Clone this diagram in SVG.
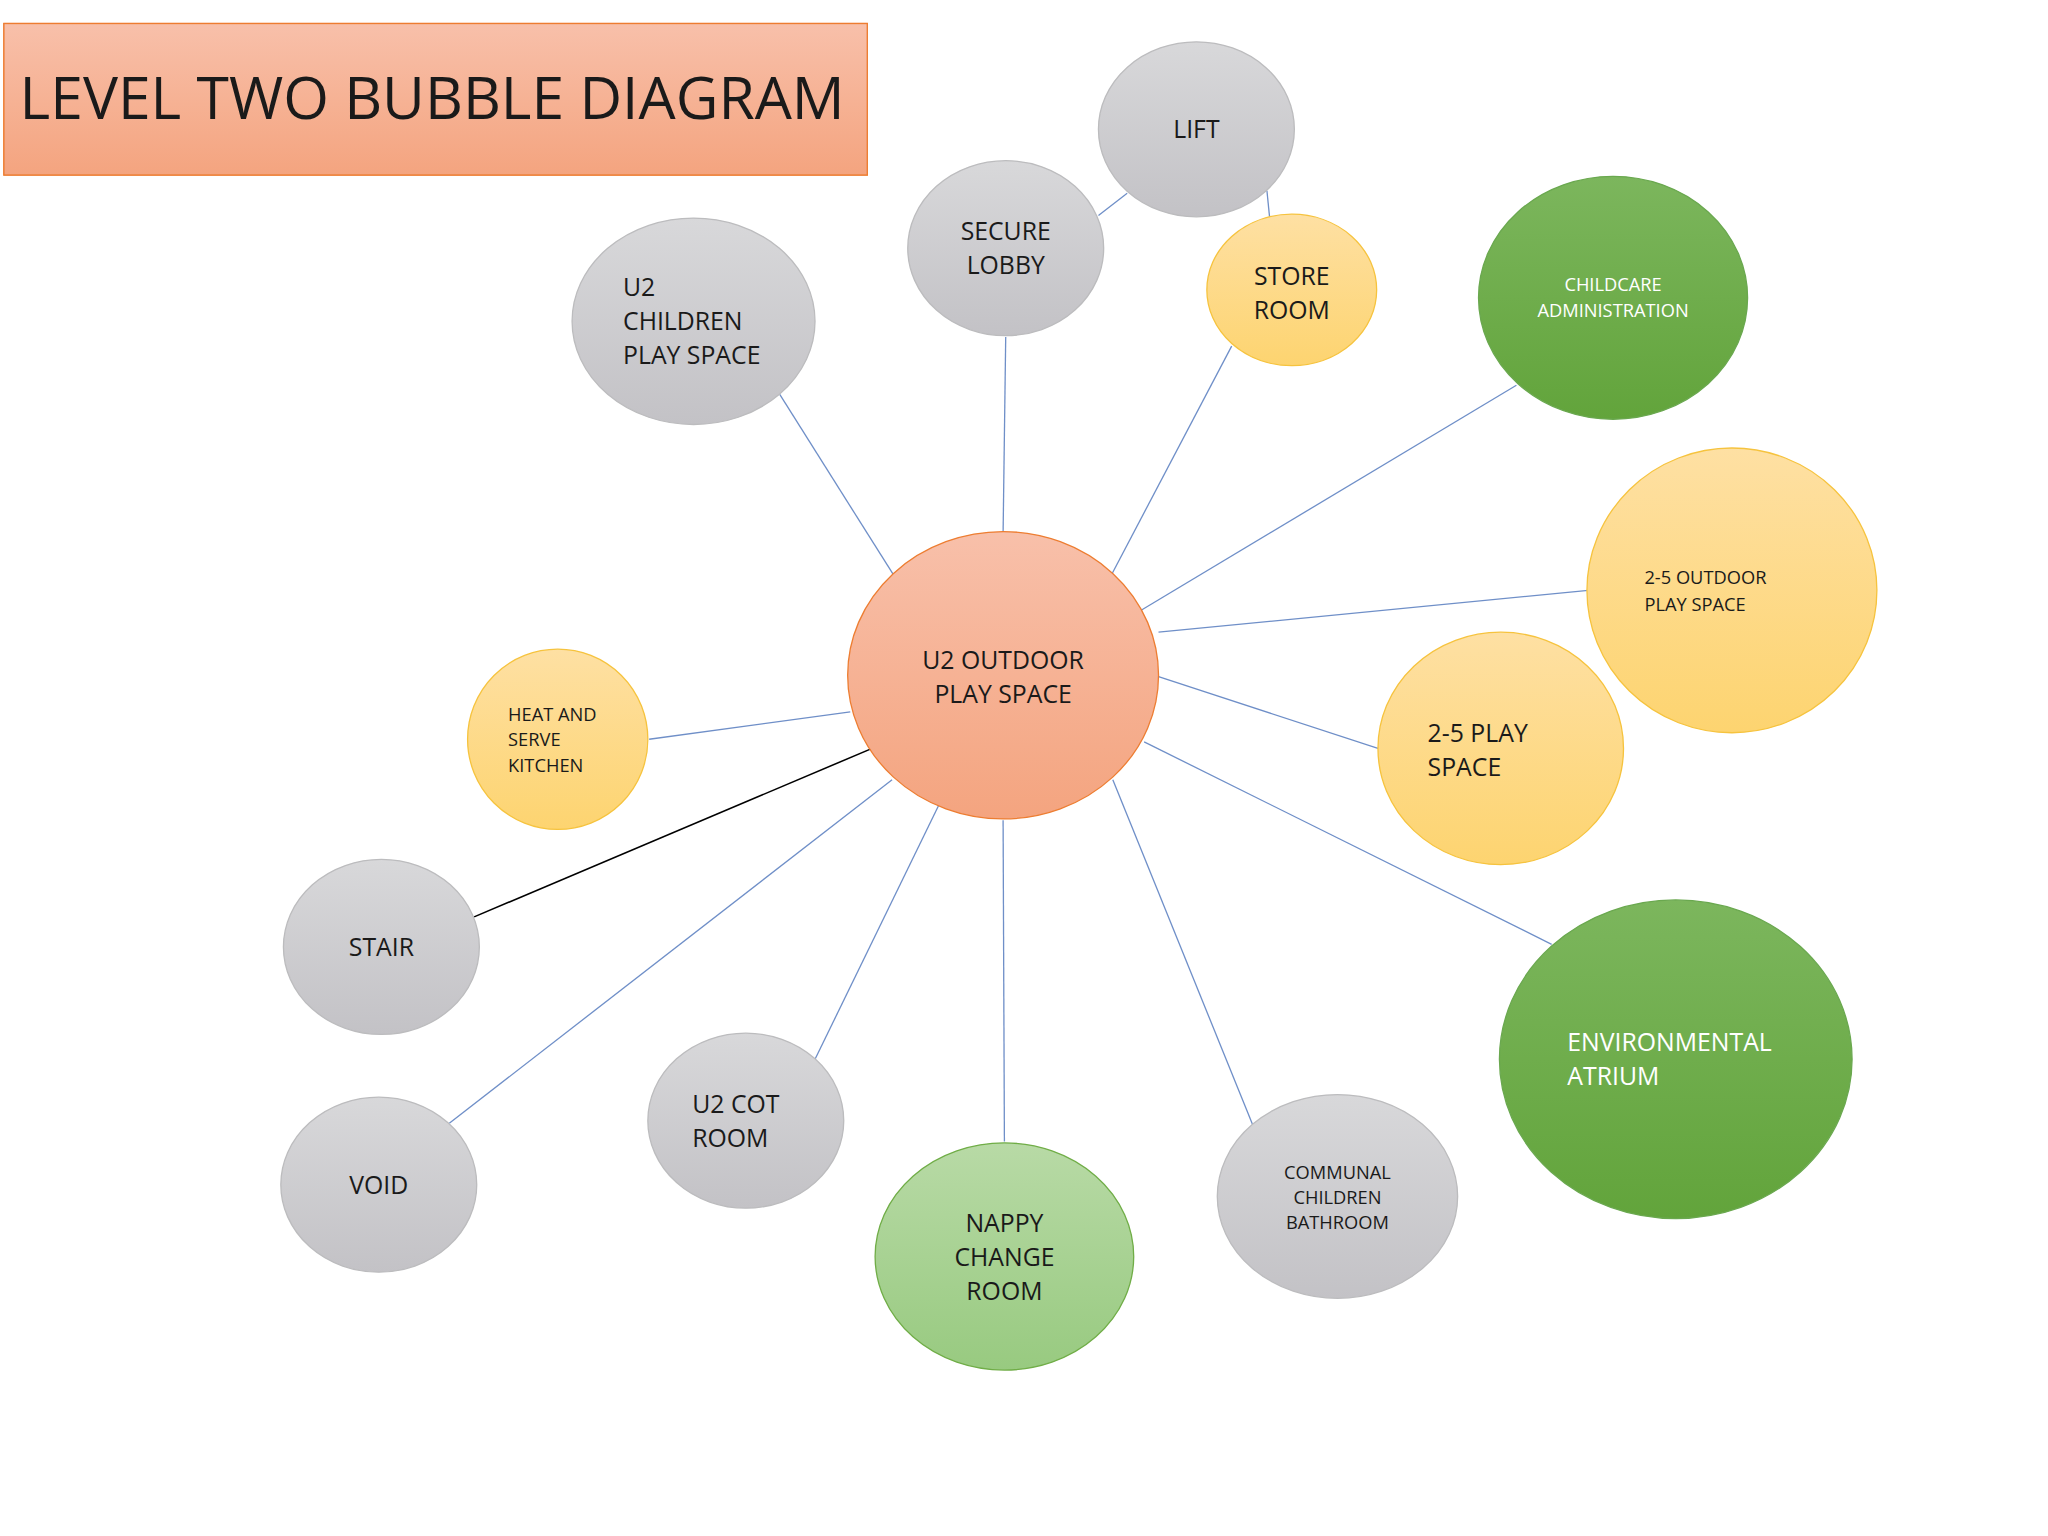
<svg xmlns="http://www.w3.org/2000/svg" width="2048" height="1536" viewBox="0 0 2048 1536">
<defs>
<linearGradient id="gGray" x1="0" y1="0" x2="0" y2="1"><stop offset="0" stop-color="#d8d8da"/><stop offset="1" stop-color="#c3c2c6"/></linearGradient>
<linearGradient id="gYel" x1="0" y1="0" x2="0" y2="1"><stop offset="0" stop-color="#fee0a3"/><stop offset="1" stop-color="#fdd470"/></linearGradient>
<linearGradient id="gGrn" x1="0" y1="0" x2="0" y2="1"><stop offset="0" stop-color="#7cb65d"/><stop offset="1" stop-color="#62a43b"/></linearGradient>
<linearGradient id="gLGrn" x1="0" y1="0" x2="0" y2="1"><stop offset="0" stop-color="#b8daa6"/><stop offset="1" stop-color="#98ca80"/></linearGradient>
<linearGradient id="gSal" x1="0" y1="0" x2="0" y2="1"><stop offset="0" stop-color="#f8c0aa"/><stop offset="1" stop-color="#f4a47f"/></linearGradient>
</defs>
<style>
.gray{fill:url(#gGray);stroke:#bcbcbe;stroke-width:1}
.yel{fill:url(#gYel);stroke:#f6c33e;stroke-width:1}
.grn{fill:url(#gGrn);stroke:#6aa84f;stroke-width:1}
.lgrn{fill:url(#gLGrn);stroke:#70ad47;stroke-width:1}
.sal{fill:url(#gSal);stroke:#ed7d31;stroke-width:1}
text{font-family:"Open Sans","Liberation Sans",sans-serif;fill:#1a1a1a}
.l{font-size:19px}
.s{font-size:14px}
.w{fill:#ffffff}
.c{text-anchor:middle}
.ln{stroke:#6f8fc8;stroke-width:1;fill:none}
</style>
<rect width="2048" height="1536" fill="#ffffff"/>
<g transform="scale(1.30612)">
<g id="title"><rect x="3" y="18" width="661" height="116" fill="#f6b297" stroke="#ed7d31" stroke-width="1"/><rect x="3" y="18" width="661" height="116" fill="url(#gSal)" stroke="#ed7d31"/>
<text x="15" y="91" style="font-size:45px" fill="#000">LEVEL TWO BUBBLE DIAGRAM</text></g>
<g id="connectors">
<line class="ln" x1="841" y1="165" x2="863" y2="148"/>
<line class="ln" x1="970" y1="146" x2="972" y2="166"/>
<line class="ln" x1="770" y1="258" x2="768" y2="408"/>
<line class="ln" x1="943" y1="265" x2="851" y2="440"/>
<line class="ln" x1="597" y1="302" x2="684" y2="440"/>
<line class="ln" x1="1161" y1="295" x2="874" y2="467"/>
<line class="ln" x1="1216" y1="452" x2="887" y2="484"/>
<line class="ln" x1="1055" y1="573" x2="887" y2="518"/>
<line class="ln" x1="497" y1="566" x2="651" y2="545"/>
<line x1="363" y1="702" x2="670" y2="572" stroke="#000" stroke-width="1.2"/>
<line class="ln" x1="344" y1="860" x2="683" y2="597"/>
<line class="ln" x1="624" y1="811" x2="719" y2="616"/>
<line class="ln" x1="768" y1="628" x2="769" y2="874"/>
<line class="ln" x1="852" y1="597" x2="959" y2="861"/>
<line class="ln" x1="876" y1="568" x2="1188" y2="723"/>
</g>
<g id="lift"><ellipse class="gray" cx="916" cy="99" rx="75" ry="67"/><text class="l c" x="916" y="106">LIFT</text></g>
<g id="lobby"><ellipse class="gray" cx="770" cy="190" rx="75" ry="67"/><text class="l c" x="770" y="184">SECURE</text><text class="l c" x="770" y="210">LOBBY</text></g>
<g id="store"><ellipse class="yel" cx="989" cy="222" rx="65" ry="58"/><text class="l c" x="989" y="218">STORE</text><text class="l c" x="989" y="244">ROOM</text></g>
<g id="u2children"><ellipse class="gray" cx="531" cy="246" rx="93" ry="79"/><text class="l" x="477" y="227">U2</text><text class="l" x="477" y="253">CHILDREN</text><text class="l" x="477" y="279">PLAY SPACE</text></g>
<g id="admin"><ellipse class="grn" cx="1235" cy="228" rx="103" ry="93"/><text class="s c w" x="1235" y="223">CHILDCARE</text><text class="s c w" x="1235" y="243">ADMINISTRATION</text></g>
<g id="outdoor25"><ellipse class="yel" cx="1326" cy="452" rx="111" ry="109"/><text class="s" x="1259" y="447">2-5 OUTDOOR</text><text class="s" x="1259" y="468">PLAY SPACE</text></g>
<g id="u2outdoor"><ellipse class="sal" cx="768" cy="517" rx="119" ry="110"/><text class="l c" x="768" y="512">U2 OUTDOOR</text><text class="l c" x="768" y="538">PLAY SPACE</text></g>
<g id="kitchen"><ellipse class="yel" cx="427" cy="566" rx="69" ry="69"/><text class="s" x="389" y="552">HEAT AND</text><text class="s" x="389" y="571">SERVE</text><text class="s" x="389" y="591">KITCHEN</text></g>
<g id="play25"><ellipse class="yel" cx="1149" cy="573" rx="94" ry="89"/><text class="l" x="1093" y="568">2-5 PLAY</text><text class="l" x="1093" y="594">SPACE</text></g>
<g id="stair"><ellipse class="gray" cx="292" cy="725" rx="75" ry="67"/><text class="l c" x="292" y="732">STAIR</text></g>
<g id="atrium"><ellipse class="grn" cx="1283" cy="811" rx="135" ry="122"/><text class="l w" x="1200" y="805">ENVIRONMENTAL</text><text class="l w" x="1200" y="831">ATRIUM</text></g>
<g id="void"><ellipse class="gray" cx="290" cy="907" rx="75" ry="67"/><text class="l c" x="290" y="914">VOID</text></g>
<g id="cot"><ellipse class="gray" cx="571" cy="858" rx="75" ry="67"/><text class="l" x="530" y="852">U2 COT</text><text class="l" x="530" y="878">ROOM</text></g>
<g id="nappy"><ellipse class="lgrn" cx="769" cy="962" rx="99" ry="87"/><text class="l c" x="769" y="943">NAPPY</text><text class="l c" x="769" y="969">CHANGE</text><text class="l c" x="769" y="995">ROOM</text></g>
<g id="bathroom"><ellipse class="gray" cx="1024" cy="916" rx="92" ry="78"/><text class="s c" x="1024" y="903">COMMUNAL</text><text class="s c" x="1024" y="922">CHILDREN</text><text class="s c" x="1024" y="941">BATHROOM</text></g>
</g>
</svg>
